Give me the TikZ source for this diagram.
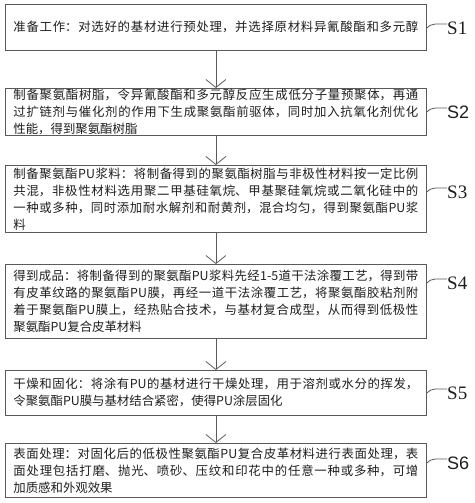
\documentclass[tikz,border=0pt]{standalone}
\usepackage{fontspec}
\newfontfamily\cjk{Noto Sans CJK SC}
\newfontfamily\stepserif{Liberation Serif}
\newfontfamily\stepsans{Liberation Sans}
\XeTeXlinebreaklocale "zh"
\XeTeXlinebreakskip=0pt plus 3pt
\usetikzlibrary{arrows.meta}
\definecolor{linegray}{HTML}{5A5A5A}
\definecolor{textblack}{HTML}{1E1E1E}

\begin{document}
\begin{tikzpicture}[x=1pt,y=1pt,
    box/.style={draw=linegray, line width=0.8pt, anchor=north west,
        text width=405pt, inner xsep=8pt, inner ysep=0pt, align=justify,
        text=textblack, font=\cjk\fontsize{12.4}{17}\selectfont},
    slabel/.style={anchor=west, inner sep=0pt, text=textblack},
    flow/.style={draw=linegray, line width=0.8pt, -{Straight Barb[length=8pt,width=20pt]}},
    tie/.style={draw=linegray, line width=0.8pt}]
        \useasboundingbox (0,0) rectangle (474,-503);
        % steps
        \node[box, minimum height=46pt] (b1) at (5,-4) {\parfillskip=0pt
            准备工作：对选好的基材进行预处理，并选择原材料异氰酸酯和多元醇\par};
        \node[box, minimum height=47pt] (b2) at (5,-88) {
            制备聚氨酯树脂，令异氰酸酯和多元醇反应生成低分子量预聚体，再通\break
            过扩链剂与催化剂的作用下生成聚氨酯前驱体，同时加入抗氧化剂优化\break
            性能，得到聚氨酯树脂};
        \node[box, minimum height=67pt] (b3) at (5,-165) {
            制备聚氨酯PU浆料：将制备得到的聚氨酯树脂与非极性材料按一定比例\break
            共混，非极性材料选用聚二甲基硅氧烷、甲基聚硅氧烷或二氧化硅中的\break
            一种或多种，同时添加耐水解剂和耐黄剂，混合均匀，得到聚氨酯PU浆\break
            料};
        \node[box, minimum height=74pt] (b4) at (5,-264) {
            得到成品：将制备得到的聚氨酯PU浆料先经1-5道干法涂覆工艺，得到带\break
            有皮革纹路的聚氨酯PU膜，再经一道干法涂覆工艺，将聚氨酯胶粘剂附\break
            着于聚氨酯PU膜上，经热贴合技术，与基材复合成型，从而得到低极性\break
            聚氨酯PU复合皮革材料};
        \node[box, minimum height=45pt] (b5) at (5,-370) {
            干燥和固化：将涂有PU的基材进行干燥处理，用于溶剂或水分的挥发，\break
            令聚氨酯PU膜与基材结合紧密，使得PU涂层固化};
        \node[box, minimum height=54pt] (b6) at (5,-443) {
            表面处理：对固化后的低极性聚氨酯PU复合皮革材料进行表面处理，表\break
            面处理包括打磨、抛光、喷砂、压纹和印花中的任意一种或多种，可增\break
            加质感和外观效果};
        % step labels
        \node[slabel, font=\stepserif\fontsize{19}{19}\selectfont] (s1) at (447,-28) {S1};
        \node[slabel, font=\stepsans\fontsize{18}{18}\selectfont] (s2) at (447,-112) {S2};
        \node[slabel, font=\stepserif\fontsize{19}{19}\selectfont] (s3) at (447,-192) {S3};
        \node[slabel, font=\stepserif\fontsize{19}{19}\selectfont] (s4) at (447,-283) {S4};
        \node[slabel, font=\stepserif\fontsize{19}{19}\selectfont] (s5) at (447,-393) {S5};
        \node[slabel, font=\stepsans\fontsize{18}{18}\selectfont] (s6) at (447,-463) {S6};
        \draw[flow] (b1) -- (b2);
        \draw[flow] (b2) -- (b3);
        \draw[flow] (b3) -- (b4);
        \draw[flow] (b4) -- (b5);
        \draw[flow] (b5) -- (b6);
        \draw[tie] ([yshift=4pt]s1.west) .. controls +(-10,0) and +(4,5) .. (b1.east |- s1.west);
        \draw[tie] ([yshift=4pt]s2.west) .. controls +(-10,0) and +(4,5) .. (b2.east |- s2.west);
        \draw[tie] ([yshift=4pt]s3.west) .. controls +(-10,0) and +(4,5) .. (b3.east |- s3.west);
        \draw[tie] ([yshift=4pt]s4.west) .. controls +(-10,0) and +(4,5) .. (b4.east |- s4.west);
        \draw[tie] ([yshift=4pt]s5.west) .. controls +(-10,0) and +(4,5) .. (b5.east |- s5.west);
        \draw[tie] ([yshift=4pt]s6.west) .. controls +(-10,0) and +(4,5) .. (b6.east |- s6.west);
    \end{tikzpicture}
\end{document}
